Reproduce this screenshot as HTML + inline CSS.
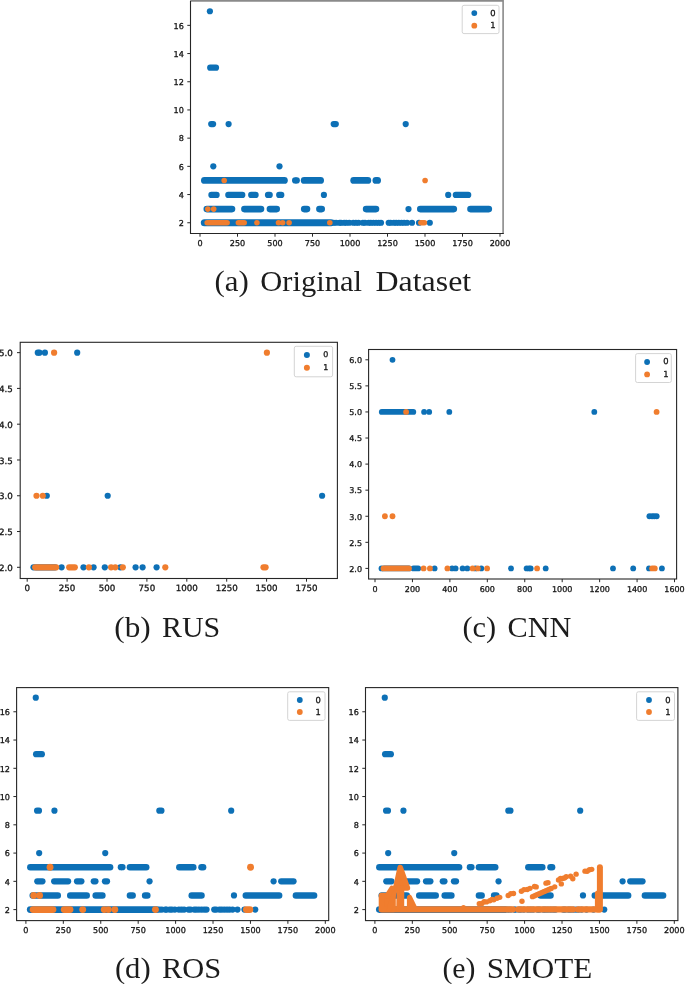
<!DOCTYPE html>
<html lang="en">
<head>
<meta charset="utf-8">
<title>Resampling scatter plots</title>
<style>
html,body{margin:0;padding:0;background:#fff;}
body{width:685px;height:984px;overflow:hidden;}
svg{display:block;}
.tk{font-family:"DejaVu Sans","Liberation Sans",sans-serif;font-size:8.1px;fill:#151515;stroke:#151515;stroke-width:0.3px;text-rendering:geometricPrecision;}
.tk.lg{font-size:8.4px;}
#pb .tk{font-size:8.7px;}
#pb .tk.lg{font-size:7.9px;stroke-width:0.32px;}
#pc .tk{font-size:8px;}
#pc .tk.lg{font-size:8.4px;}
.cap{font-family:"Liberation Serif","DejaVu Serif",serif;font-size:29px;fill:#1c1c1c;}
</style>
</head>
<body>
<svg width="685" height="984" viewBox="0 0 685 984">
<rect width="685" height="984" fill="#fff"/>
<g id="pa">
<circle cx="209.9" cy="11.25" r="3.1" fill="#0d70b6"/>
<line x1="210.2" y1="67.65" x2="216" y2="67.65" stroke="#0d70b6" stroke-width="6.2" stroke-linecap="round"/>
<line x1="211.2" y1="124.05" x2="213.1" y2="124.05" stroke="#0d70b6" stroke-width="6.2" stroke-linecap="round"/>
<circle cx="228.6" cy="124.05" r="3.1" fill="#0d70b6"/>
<line x1="333.7" y1="124.05" x2="335.8" y2="124.05" stroke="#0d70b6" stroke-width="6.2" stroke-linecap="round"/>
<circle cx="405.7" cy="124.05" r="3.1" fill="#0d70b6"/>
<circle cx="213.3" cy="166.35" r="3.1" fill="#0d70b6"/>
<circle cx="279.5" cy="166.35" r="3.1" fill="#0d70b6"/>
<line x1="204.4" y1="180.45" x2="284.4" y2="180.45" stroke="#0d70b6" stroke-width="6.8" stroke-linecap="round"/>
<circle cx="295.1" cy="180.45" r="3.1" fill="#0d70b6"/>
<circle cx="296.8" cy="180.45" r="3.1" fill="#0d70b6"/>
<line x1="304.2" y1="180.45" x2="320.6" y2="180.45" stroke="#0d70b6" stroke-width="6.8" stroke-linecap="round"/>
<line x1="353.7" y1="180.45" x2="367.8" y2="180.45" stroke="#0d70b6" stroke-width="6.8" stroke-linecap="round"/>
<line x1="375.9" y1="180.45" x2="377.6" y2="180.45" stroke="#0d70b6" stroke-width="6.8" stroke-linecap="round"/>
<line x1="211.4" y1="194.95" x2="216.6" y2="194.95" stroke="#0d70b6" stroke-width="6.2" stroke-linecap="round"/>
<line x1="228.3" y1="194.95" x2="242.3" y2="194.95" stroke="#0d70b6" stroke-width="6.2" stroke-linecap="round"/>
<line x1="251.2" y1="194.95" x2="255.6" y2="194.95" stroke="#0d70b6" stroke-width="6.2" stroke-linecap="round"/>
<line x1="268" y1="194.95" x2="269.7" y2="194.95" stroke="#0d70b6" stroke-width="6.2" stroke-linecap="round"/>
<line x1="279.2" y1="194.95" x2="281.3" y2="194.95" stroke="#0d70b6" stroke-width="6.2" stroke-linecap="round"/>
<circle cx="323.9" cy="194.95" r="3.1" fill="#0d70b6"/>
<circle cx="448.2" cy="194.95" r="3.1" fill="#0d70b6"/>
<line x1="455.8" y1="194.95" x2="468.2" y2="194.95" stroke="#0d70b6" stroke-width="6.2" stroke-linecap="round"/>
<line x1="206.8" y1="209.1" x2="232" y2="209.1" stroke="#0d70b6" stroke-width="6.6" stroke-linecap="round"/>
<line x1="244.4" y1="209.1" x2="261" y2="209.1" stroke="#0d70b6" stroke-width="6.6" stroke-linecap="round"/>
<line x1="269.9" y1="209.1" x2="276.7" y2="209.1" stroke="#0d70b6" stroke-width="6.6" stroke-linecap="round"/>
<line x1="304.2" y1="209.1" x2="307" y2="209.1" stroke="#0d70b6" stroke-width="6.6" stroke-linecap="round"/>
<line x1="319.4" y1="209.1" x2="321.7" y2="209.1" stroke="#0d70b6" stroke-width="6.6" stroke-linecap="round"/>
<line x1="366.1" y1="209.1" x2="376" y2="209.1" stroke="#0d70b6" stroke-width="6.6" stroke-linecap="round"/>
<circle cx="408.5" cy="209.1" r="3.1" fill="#0d70b6"/>
<line x1="420.3" y1="209.1" x2="453.8" y2="209.1" stroke="#0d70b6" stroke-width="6.6" stroke-linecap="round"/>
<line x1="470.5" y1="209.1" x2="488.8" y2="209.1" stroke="#0d70b6" stroke-width="6.6" stroke-linecap="round"/>
<line x1="204.4" y1="222.75" x2="331" y2="222.75" stroke="#0d70b6" stroke-width="7.2" stroke-linecap="round"/>
<circle cx="333.7" cy="222.75" r="3.1" fill="#0d70b6"/>
<circle cx="336.1" cy="222.75" r="3.1" fill="#0d70b6"/>
<circle cx="339.6" cy="222.75" r="3.1" fill="#0d70b6"/>
<circle cx="341" cy="222.75" r="3.1" fill="#0d70b6"/>
<circle cx="344.2" cy="222.75" r="3.1" fill="#0d70b6"/>
<circle cx="346.3" cy="222.75" r="3.1" fill="#0d70b6"/>
<circle cx="349.3" cy="222.75" r="3.1" fill="#0d70b6"/>
<circle cx="353.3" cy="222.75" r="3.1" fill="#0d70b6"/>
<circle cx="355.9" cy="222.75" r="3.1" fill="#0d70b6"/>
<circle cx="358.5" cy="222.75" r="3.1" fill="#0d70b6"/>
<circle cx="362.9" cy="222.75" r="3.1" fill="#0d70b6"/>
<circle cx="365" cy="222.75" r="3.1" fill="#0d70b6"/>
<circle cx="368.7" cy="222.75" r="3.1" fill="#0d70b6"/>
<circle cx="370.8" cy="222.75" r="3.1" fill="#0d70b6"/>
<circle cx="373.4" cy="222.75" r="3.1" fill="#0d70b6"/>
<circle cx="376.1" cy="222.75" r="3.1" fill="#0d70b6"/>
<circle cx="378.7" cy="222.75" r="3.1" fill="#0d70b6"/>
<circle cx="381" cy="222.75" r="3.1" fill="#0d70b6"/>
<circle cx="388.7" cy="222.75" r="3.1" fill="#0d70b6"/>
<circle cx="390.6" cy="222.75" r="3.1" fill="#0d70b6"/>
<circle cx="393.9" cy="222.75" r="3.1" fill="#0d70b6"/>
<circle cx="396.2" cy="222.75" r="3.1" fill="#0d70b6"/>
<circle cx="398.8" cy="222.75" r="3.1" fill="#0d70b6"/>
<circle cx="401.5" cy="222.75" r="3.1" fill="#0d70b6"/>
<circle cx="404.1" cy="222.75" r="3.1" fill="#0d70b6"/>
<circle cx="407.1" cy="222.75" r="3.1" fill="#0d70b6"/>
<circle cx="412" cy="222.75" r="3.1" fill="#0d70b6"/>
<circle cx="419" cy="222.75" r="3.1" fill="#0d70b6"/>
<circle cx="429.8" cy="222.75" r="3.1" fill="#0d70b6"/>
<circle cx="224.2" cy="180.45" r="2.8" fill="#f07d2e"/>
<circle cx="425.1" cy="180.45" r="2.8" fill="#f07d2e"/>
<circle cx="207.8" cy="209.1" r="2.8" fill="#f07d2e"/>
<circle cx="213.7" cy="209.1" r="2.8" fill="#f07d2e"/>
<line x1="207.2" y1="222.75" x2="227.1" y2="222.75" stroke="#f07d2e" stroke-width="5.6" stroke-linecap="round"/>
<line x1="238.4" y1="222.75" x2="244.2" y2="222.75" stroke="#f07d2e" stroke-width="5.6" stroke-linecap="round"/>
<circle cx="256.9" cy="222.75" r="2.8" fill="#f07d2e"/>
<circle cx="278.5" cy="222.75" r="2.8" fill="#f07d2e"/>
<circle cx="282.6" cy="222.75" r="2.8" fill="#f07d2e"/>
<circle cx="289.1" cy="222.75" r="2.8" fill="#f07d2e"/>
<circle cx="329.8" cy="222.75" r="2.8" fill="#f07d2e"/>
<line x1="420.9" y1="222.75" x2="424.4" y2="222.75" stroke="#f07d2e" stroke-width="5.6" stroke-linecap="round"/>
<polyline points="190.5,0.9 503.1,0.9 503.1,233.5" fill="none" stroke="#8a8a8a" stroke-width="1.6"/>
<polyline points="190.5,0.7 190.5,233.5 503.8,233.5" fill="none" stroke="#262626" stroke-width="1.1"/>
<line x1="200" y1="233.5" x2="200" y2="236.7" stroke="#262626" stroke-width="1"/>
<text class="tk" x="200" y="246.3" text-anchor="middle">0</text>
<line x1="237.5" y1="233.5" x2="237.5" y2="236.7" stroke="#262626" stroke-width="1"/>
<text class="tk" x="237.5" y="246.3" text-anchor="middle">250</text>
<line x1="275" y1="233.5" x2="275" y2="236.7" stroke="#262626" stroke-width="1"/>
<text class="tk" x="275" y="246.3" text-anchor="middle">500</text>
<line x1="312.5" y1="233.5" x2="312.5" y2="236.7" stroke="#262626" stroke-width="1"/>
<text class="tk" x="312.5" y="246.3" text-anchor="middle">750</text>
<line x1="350" y1="233.5" x2="350" y2="236.7" stroke="#262626" stroke-width="1"/>
<text class="tk" x="350" y="246.3" text-anchor="middle">1000</text>
<line x1="387.5" y1="233.5" x2="387.5" y2="236.7" stroke="#262626" stroke-width="1"/>
<text class="tk" x="387.5" y="246.3" text-anchor="middle">1250</text>
<line x1="425" y1="233.5" x2="425" y2="236.7" stroke="#262626" stroke-width="1"/>
<text class="tk" x="425" y="246.3" text-anchor="middle">1500</text>
<line x1="462.5" y1="233.5" x2="462.5" y2="236.7" stroke="#262626" stroke-width="1"/>
<text class="tk" x="462.5" y="246.3" text-anchor="middle">1750</text>
<line x1="500" y1="233.5" x2="500" y2="236.7" stroke="#262626" stroke-width="1"/>
<text class="tk" x="500" y="246.3" text-anchor="middle">2000</text>
<line x1="187.3" y1="222.75" x2="190.5" y2="222.75" stroke="#262626" stroke-width="1"/>
<text class="tk" x="183.9" y="226.05" text-anchor="end">2</text>
<line x1="187.3" y1="194.55" x2="190.5" y2="194.55" stroke="#262626" stroke-width="1"/>
<text class="tk" x="183.9" y="197.85" text-anchor="end">4</text>
<line x1="187.3" y1="166.35" x2="190.5" y2="166.35" stroke="#262626" stroke-width="1"/>
<text class="tk" x="183.9" y="169.65" text-anchor="end">6</text>
<line x1="187.3" y1="138.15" x2="190.5" y2="138.15" stroke="#262626" stroke-width="1"/>
<text class="tk" x="183.9" y="141.45" text-anchor="end">8</text>
<line x1="187.3" y1="109.95" x2="190.5" y2="109.95" stroke="#262626" stroke-width="1"/>
<text class="tk" x="183.9" y="113.25" text-anchor="end">10</text>
<line x1="187.3" y1="81.75" x2="190.5" y2="81.75" stroke="#262626" stroke-width="1"/>
<text class="tk" x="183.9" y="85.05" text-anchor="end">12</text>
<line x1="187.3" y1="53.55" x2="190.5" y2="53.55" stroke="#262626" stroke-width="1"/>
<text class="tk" x="183.9" y="56.85" text-anchor="end">14</text>
<line x1="187.3" y1="25.35" x2="190.5" y2="25.35" stroke="#262626" stroke-width="1"/>
<text class="tk" x="183.9" y="28.65" text-anchor="end">16</text>
<rect x="462.2" y="5.3" width="36.8" height="28.3" rx="1.8" fill="#fff" fill-opacity="0.8" stroke="#cfcfcf" stroke-width="0.9"/>
<circle cx="474.3" cy="13.1" r="2.9" fill="#0d70b6"/>
<circle cx="474.3" cy="25.7" r="2.9" fill="#f07d2e"/>
<text class="tk lg" x="493" y="15.8" text-anchor="middle">0</text>
<text class="tk lg" x="493" y="28.4" text-anchor="middle">1</text>
</g>
<g id="pd">
<circle cx="35.78" cy="697.65" r="3.1" fill="#0d70b6"/>
<line x1="36.08" y1="754.17" x2="41.87" y2="754.17" stroke="#0d70b6" stroke-width="6.2" stroke-linecap="round"/>
<line x1="37.08" y1="810.69" x2="38.97" y2="810.69" stroke="#0d70b6" stroke-width="6.2" stroke-linecap="round"/>
<circle cx="54.44" cy="810.69" r="3.1" fill="#0d70b6"/>
<line x1="159.33" y1="810.69" x2="161.43" y2="810.69" stroke="#0d70b6" stroke-width="6.2" stroke-linecap="round"/>
<circle cx="231.19" cy="810.69" r="3.1" fill="#0d70b6"/>
<circle cx="39.17" cy="853.08" r="3.1" fill="#0d70b6"/>
<circle cx="105.24" cy="853.08" r="3.1" fill="#0d70b6"/>
<line x1="30.29" y1="867.21" x2="110.13" y2="867.21" stroke="#0d70b6" stroke-width="6.4" stroke-linecap="round"/>
<circle cx="120.81" cy="867.21" r="3.1" fill="#0d70b6"/>
<circle cx="122.51" cy="867.21" r="3.1" fill="#0d70b6"/>
<line x1="129.89" y1="867.21" x2="146.26" y2="867.21" stroke="#0d70b6" stroke-width="6.4" stroke-linecap="round"/>
<line x1="179.29" y1="867.21" x2="193.36" y2="867.21" stroke="#0d70b6" stroke-width="6.4" stroke-linecap="round"/>
<line x1="201.45" y1="867.21" x2="203.14" y2="867.21" stroke="#0d70b6" stroke-width="6.4" stroke-linecap="round"/>
<line x1="37.28" y1="881.34" x2="42.47" y2="881.34" stroke="#0d70b6" stroke-width="6.2" stroke-linecap="round"/>
<line x1="54.14" y1="881.34" x2="68.12" y2="881.34" stroke="#0d70b6" stroke-width="6.2" stroke-linecap="round"/>
<line x1="77" y1="881.34" x2="81.39" y2="881.34" stroke="#0d70b6" stroke-width="6.2" stroke-linecap="round"/>
<line x1="93.76" y1="881.34" x2="95.46" y2="881.34" stroke="#0d70b6" stroke-width="6.2" stroke-linecap="round"/>
<line x1="104.94" y1="881.34" x2="107.04" y2="881.34" stroke="#0d70b6" stroke-width="6.2" stroke-linecap="round"/>
<circle cx="149.55" cy="881.34" r="3.1" fill="#0d70b6"/>
<circle cx="273.6" cy="881.34" r="3.1" fill="#0d70b6"/>
<line x1="281.19" y1="881.34" x2="293.56" y2="881.34" stroke="#0d70b6" stroke-width="6.2" stroke-linecap="round"/>
<line x1="32.69" y1="895.47" x2="57.84" y2="895.47" stroke="#0d70b6" stroke-width="6.4" stroke-linecap="round"/>
<line x1="70.21" y1="895.47" x2="86.78" y2="895.47" stroke="#0d70b6" stroke-width="6.4" stroke-linecap="round"/>
<line x1="95.66" y1="895.47" x2="102.45" y2="895.47" stroke="#0d70b6" stroke-width="6.4" stroke-linecap="round"/>
<line x1="129.89" y1="895.47" x2="132.69" y2="895.47" stroke="#0d70b6" stroke-width="6.4" stroke-linecap="round"/>
<line x1="145.06" y1="895.47" x2="147.36" y2="895.47" stroke="#0d70b6" stroke-width="6.4" stroke-linecap="round"/>
<line x1="191.67" y1="895.47" x2="201.55" y2="895.47" stroke="#0d70b6" stroke-width="6.4" stroke-linecap="round"/>
<circle cx="233.98" cy="895.47" r="3.1" fill="#0d70b6"/>
<line x1="245.76" y1="895.47" x2="279.19" y2="895.47" stroke="#0d70b6" stroke-width="6.4" stroke-linecap="round"/>
<line x1="295.86" y1="895.47" x2="314.12" y2="895.47" stroke="#0d70b6" stroke-width="6.4" stroke-linecap="round"/>
<line x1="30.29" y1="909.6" x2="156.64" y2="909.6" stroke="#0d70b6" stroke-width="6.9" stroke-linecap="round"/>
<circle cx="159.33" cy="909.6" r="3.1" fill="#0d70b6"/>
<circle cx="161.73" cy="909.6" r="3.1" fill="#0d70b6"/>
<circle cx="165.22" cy="909.6" r="3.1" fill="#0d70b6"/>
<circle cx="166.62" cy="909.6" r="3.1" fill="#0d70b6"/>
<circle cx="169.81" cy="909.6" r="3.1" fill="#0d70b6"/>
<circle cx="171.91" cy="909.6" r="3.1" fill="#0d70b6"/>
<circle cx="174.9" cy="909.6" r="3.1" fill="#0d70b6"/>
<circle cx="178.89" cy="909.6" r="3.1" fill="#0d70b6"/>
<circle cx="181.49" cy="909.6" r="3.1" fill="#0d70b6"/>
<circle cx="184.08" cy="909.6" r="3.1" fill="#0d70b6"/>
<circle cx="188.47" cy="909.6" r="3.1" fill="#0d70b6"/>
<circle cx="190.57" cy="909.6" r="3.1" fill="#0d70b6"/>
<circle cx="194.26" cy="909.6" r="3.1" fill="#0d70b6"/>
<circle cx="196.36" cy="909.6" r="3.1" fill="#0d70b6"/>
<circle cx="198.95" cy="909.6" r="3.1" fill="#0d70b6"/>
<circle cx="201.65" cy="909.6" r="3.1" fill="#0d70b6"/>
<circle cx="204.24" cy="909.6" r="3.1" fill="#0d70b6"/>
<circle cx="206.54" cy="909.6" r="3.1" fill="#0d70b6"/>
<circle cx="214.22" cy="909.6" r="3.1" fill="#0d70b6"/>
<circle cx="216.12" cy="909.6" r="3.1" fill="#0d70b6"/>
<circle cx="219.41" cy="909.6" r="3.1" fill="#0d70b6"/>
<circle cx="221.71" cy="909.6" r="3.1" fill="#0d70b6"/>
<circle cx="224.3" cy="909.6" r="3.1" fill="#0d70b6"/>
<circle cx="227" cy="909.6" r="3.1" fill="#0d70b6"/>
<circle cx="229.59" cy="909.6" r="3.1" fill="#0d70b6"/>
<circle cx="232.59" cy="909.6" r="3.1" fill="#0d70b6"/>
<circle cx="237.48" cy="909.6" r="3.1" fill="#0d70b6"/>
<circle cx="244.46" cy="909.6" r="3.1" fill="#0d70b6"/>
<circle cx="255.24" cy="909.6" r="3.1" fill="#0d70b6"/>
<circle cx="50.05" cy="867.21" r="3.45" fill="#f07d2e"/>
<circle cx="250.55" cy="867.21" r="3.45" fill="#f07d2e"/>
<circle cx="33.68" cy="895.47" r="3.45" fill="#f07d2e"/>
<circle cx="39.57" cy="895.47" r="3.45" fill="#f07d2e"/>
<line x1="33.09" y1="909.6" x2="52.95" y2="909.6" stroke="#f07d2e" stroke-width="6.9" stroke-linecap="round"/>
<line x1="64.22" y1="909.6" x2="70.01" y2="909.6" stroke="#f07d2e" stroke-width="6.9" stroke-linecap="round"/>
<circle cx="82.69" cy="909.6" r="3.45" fill="#f07d2e"/>
<circle cx="104.24" cy="909.6" r="3.45" fill="#f07d2e"/>
<circle cx="108.33" cy="909.6" r="3.45" fill="#f07d2e"/>
<circle cx="114.82" cy="909.6" r="3.45" fill="#f07d2e"/>
<circle cx="155.44" cy="909.6" r="3.45" fill="#f07d2e"/>
<line x1="246.36" y1="909.6" x2="249.85" y2="909.6" stroke="#f07d2e" stroke-width="6.9" stroke-linecap="round"/>
<rect x="16.6" y="687.6" width="312.1" height="233" fill="none" stroke="#262626" stroke-width="1.1"/>
<line x1="25.9" y1="920.6" x2="25.9" y2="923.8" stroke="#262626" stroke-width="1"/>
<text class="tk" x="25.9" y="933.4" text-anchor="middle">0</text>
<line x1="63.32" y1="920.6" x2="63.32" y2="923.8" stroke="#262626" stroke-width="1"/>
<text class="tk" x="63.32" y="933.4" text-anchor="middle">250</text>
<line x1="100.75" y1="920.6" x2="100.75" y2="923.8" stroke="#262626" stroke-width="1"/>
<text class="tk" x="100.75" y="933.4" text-anchor="middle">500</text>
<line x1="138.18" y1="920.6" x2="138.18" y2="923.8" stroke="#262626" stroke-width="1"/>
<text class="tk" x="138.18" y="933.4" text-anchor="middle">750</text>
<line x1="175.6" y1="920.6" x2="175.6" y2="923.8" stroke="#262626" stroke-width="1"/>
<text class="tk" x="175.6" y="933.4" text-anchor="middle">1000</text>
<line x1="213.03" y1="920.6" x2="213.03" y2="923.8" stroke="#262626" stroke-width="1"/>
<text class="tk" x="213.03" y="933.4" text-anchor="middle">1250</text>
<line x1="250.45" y1="920.6" x2="250.45" y2="923.8" stroke="#262626" stroke-width="1"/>
<text class="tk" x="250.45" y="933.4" text-anchor="middle">1500</text>
<line x1="287.88" y1="920.6" x2="287.88" y2="923.8" stroke="#262626" stroke-width="1"/>
<text class="tk" x="287.88" y="933.4" text-anchor="middle">1750</text>
<line x1="325.3" y1="920.6" x2="325.3" y2="923.8" stroke="#262626" stroke-width="1"/>
<text class="tk" x="325.3" y="933.4" text-anchor="middle">2000</text>
<line x1="13.4" y1="909.6" x2="16.6" y2="909.6" stroke="#262626" stroke-width="1"/>
<text class="tk" x="10" y="912.9" text-anchor="end">2</text>
<line x1="13.4" y1="881.34" x2="16.6" y2="881.34" stroke="#262626" stroke-width="1"/>
<text class="tk" x="10" y="884.64" text-anchor="end">4</text>
<line x1="13.4" y1="853.08" x2="16.6" y2="853.08" stroke="#262626" stroke-width="1"/>
<text class="tk" x="10" y="856.38" text-anchor="end">6</text>
<line x1="13.4" y1="824.82" x2="16.6" y2="824.82" stroke="#262626" stroke-width="1"/>
<text class="tk" x="10" y="828.12" text-anchor="end">8</text>
<line x1="13.4" y1="796.56" x2="16.6" y2="796.56" stroke="#262626" stroke-width="1"/>
<text class="tk" x="10" y="799.86" text-anchor="end">10</text>
<line x1="13.4" y1="768.3" x2="16.6" y2="768.3" stroke="#262626" stroke-width="1"/>
<text class="tk" x="10" y="771.6" text-anchor="end">12</text>
<line x1="13.4" y1="740.04" x2="16.6" y2="740.04" stroke="#262626" stroke-width="1"/>
<text class="tk" x="10" y="743.34" text-anchor="end">14</text>
<line x1="13.4" y1="711.78" x2="16.6" y2="711.78" stroke="#262626" stroke-width="1"/>
<text class="tk" x="10" y="715.08" text-anchor="end">16</text>
<rect x="287.7" y="691.8" width="37.3" height="28.6" rx="1.8" fill="#fff" fill-opacity="0.8" stroke="#cfcfcf" stroke-width="0.9"/>
<circle cx="299.8" cy="700" r="2.9" fill="#0d70b6"/>
<circle cx="299.8" cy="712" r="2.9" fill="#f07d2e"/>
<text class="tk lg" x="318.2" y="702.6" text-anchor="middle">0</text>
<text class="tk lg" x="318.2" y="714.6" text-anchor="middle">1</text>
</g>
<g id="pe">
<circle cx="384.78" cy="697.65" r="3.1" fill="#0d70b6"/>
<line x1="385.08" y1="754.17" x2="390.87" y2="754.17" stroke="#0d70b6" stroke-width="6.2" stroke-linecap="round"/>
<line x1="386.08" y1="810.69" x2="387.97" y2="810.69" stroke="#0d70b6" stroke-width="6.2" stroke-linecap="round"/>
<circle cx="403.44" cy="810.69" r="3.1" fill="#0d70b6"/>
<line x1="508.33" y1="810.69" x2="510.43" y2="810.69" stroke="#0d70b6" stroke-width="6.2" stroke-linecap="round"/>
<circle cx="580.19" cy="810.69" r="3.1" fill="#0d70b6"/>
<circle cx="388.17" cy="853.08" r="3.1" fill="#0d70b6"/>
<circle cx="454.24" cy="853.08" r="3.1" fill="#0d70b6"/>
<line x1="379.29" y1="867.21" x2="459.13" y2="867.21" stroke="#0d70b6" stroke-width="6.4" stroke-linecap="round"/>
<circle cx="469.81" cy="867.21" r="3.1" fill="#0d70b6"/>
<circle cx="471.51" cy="867.21" r="3.1" fill="#0d70b6"/>
<line x1="478.89" y1="867.21" x2="495.26" y2="867.21" stroke="#0d70b6" stroke-width="6.4" stroke-linecap="round"/>
<line x1="528.29" y1="867.21" x2="542.36" y2="867.21" stroke="#0d70b6" stroke-width="6.4" stroke-linecap="round"/>
<line x1="550.45" y1="867.21" x2="552.14" y2="867.21" stroke="#0d70b6" stroke-width="6.4" stroke-linecap="round"/>
<line x1="386.28" y1="881.34" x2="391.47" y2="881.34" stroke="#0d70b6" stroke-width="6.2" stroke-linecap="round"/>
<line x1="403.14" y1="881.34" x2="417.12" y2="881.34" stroke="#0d70b6" stroke-width="6.2" stroke-linecap="round"/>
<line x1="426" y1="881.34" x2="430.39" y2="881.34" stroke="#0d70b6" stroke-width="6.2" stroke-linecap="round"/>
<line x1="442.76" y1="881.34" x2="444.46" y2="881.34" stroke="#0d70b6" stroke-width="6.2" stroke-linecap="round"/>
<line x1="453.94" y1="881.34" x2="456.04" y2="881.34" stroke="#0d70b6" stroke-width="6.2" stroke-linecap="round"/>
<circle cx="498.55" cy="881.34" r="3.1" fill="#0d70b6"/>
<circle cx="622.6" cy="881.34" r="3.1" fill="#0d70b6"/>
<line x1="630.19" y1="881.34" x2="642.56" y2="881.34" stroke="#0d70b6" stroke-width="6.2" stroke-linecap="round"/>
<line x1="381.69" y1="895.47" x2="406.84" y2="895.47" stroke="#0d70b6" stroke-width="6.4" stroke-linecap="round"/>
<line x1="419.21" y1="895.47" x2="435.78" y2="895.47" stroke="#0d70b6" stroke-width="6.4" stroke-linecap="round"/>
<line x1="444.66" y1="895.47" x2="451.45" y2="895.47" stroke="#0d70b6" stroke-width="6.4" stroke-linecap="round"/>
<line x1="478.89" y1="895.47" x2="481.69" y2="895.47" stroke="#0d70b6" stroke-width="6.4" stroke-linecap="round"/>
<line x1="494.06" y1="895.47" x2="496.36" y2="895.47" stroke="#0d70b6" stroke-width="6.4" stroke-linecap="round"/>
<line x1="540.67" y1="895.47" x2="550.55" y2="895.47" stroke="#0d70b6" stroke-width="6.4" stroke-linecap="round"/>
<circle cx="582.98" cy="895.47" r="3.1" fill="#0d70b6"/>
<line x1="594.76" y1="895.47" x2="628.19" y2="895.47" stroke="#0d70b6" stroke-width="6.4" stroke-linecap="round"/>
<line x1="644.86" y1="895.47" x2="663.12" y2="895.47" stroke="#0d70b6" stroke-width="6.4" stroke-linecap="round"/>
<line x1="379.29" y1="909.6" x2="505.64" y2="909.6" stroke="#0d70b6" stroke-width="6.6" stroke-linecap="round"/>
<circle cx="508.33" cy="909.6" r="3.1" fill="#0d70b6"/>
<circle cx="510.73" cy="909.6" r="3.1" fill="#0d70b6"/>
<circle cx="514.22" cy="909.6" r="3.1" fill="#0d70b6"/>
<circle cx="515.62" cy="909.6" r="3.1" fill="#0d70b6"/>
<circle cx="518.81" cy="909.6" r="3.1" fill="#0d70b6"/>
<circle cx="520.91" cy="909.6" r="3.1" fill="#0d70b6"/>
<circle cx="523.9" cy="909.6" r="3.1" fill="#0d70b6"/>
<circle cx="527.89" cy="909.6" r="3.1" fill="#0d70b6"/>
<circle cx="530.49" cy="909.6" r="3.1" fill="#0d70b6"/>
<circle cx="533.08" cy="909.6" r="3.1" fill="#0d70b6"/>
<circle cx="537.47" cy="909.6" r="3.1" fill="#0d70b6"/>
<circle cx="539.57" cy="909.6" r="3.1" fill="#0d70b6"/>
<circle cx="543.26" cy="909.6" r="3.1" fill="#0d70b6"/>
<circle cx="545.36" cy="909.6" r="3.1" fill="#0d70b6"/>
<circle cx="547.95" cy="909.6" r="3.1" fill="#0d70b6"/>
<circle cx="550.65" cy="909.6" r="3.1" fill="#0d70b6"/>
<circle cx="553.24" cy="909.6" r="3.1" fill="#0d70b6"/>
<circle cx="555.54" cy="909.6" r="3.1" fill="#0d70b6"/>
<circle cx="563.22" cy="909.6" r="3.1" fill="#0d70b6"/>
<circle cx="565.12" cy="909.6" r="3.1" fill="#0d70b6"/>
<circle cx="568.41" cy="909.6" r="3.1" fill="#0d70b6"/>
<circle cx="570.71" cy="909.6" r="3.1" fill="#0d70b6"/>
<circle cx="573.3" cy="909.6" r="3.1" fill="#0d70b6"/>
<circle cx="576" cy="909.6" r="3.1" fill="#0d70b6"/>
<circle cx="578.59" cy="909.6" r="3.1" fill="#0d70b6"/>
<circle cx="581.59" cy="909.6" r="3.1" fill="#0d70b6"/>
<circle cx="586.48" cy="909.6" r="3.1" fill="#0d70b6"/>
<circle cx="593.46" cy="909.6" r="3.1" fill="#0d70b6"/>
<circle cx="604.24" cy="909.6" r="3.1" fill="#0d70b6"/>
<line x1="381.8" y1="909.4" x2="513" y2="909.4" stroke="#f07d2e" stroke-width="6.1" stroke-linecap="round"/>
<line x1="518.2" y1="909.4" x2="573.2" y2="909.4" stroke="#f07d2e" stroke-width="6.1" stroke-linecap="round"/>
<line x1="577.9" y1="909.4" x2="599.6" y2="909.4" stroke="#f07d2e" stroke-width="6.1" stroke-linecap="round"/>
<rect x="381.5" y="895.47" width="11.5" height="13.93" fill="#f07d2e" stroke="#f07d2e" stroke-width="5.6" stroke-linejoin="round"/>
<polygon points="400.2,867.51 395.7,888 407.4,888" fill="#f07d2e" stroke="#f07d2e" stroke-width="5.6" stroke-linejoin="round"/>
<line x1="395.3" y1="888" x2="389.4" y2="909.4" stroke="#f07d2e" stroke-width="5.2" stroke-linecap="round"/>
<line x1="399.2" y1="888" x2="398.9" y2="909.4" stroke="#f07d2e" stroke-width="5.2" stroke-linecap="round"/>
<line x1="401.7" y1="888" x2="401.6" y2="909.4" stroke="#f07d2e" stroke-width="5.2" stroke-linecap="round"/>
<polygon points="409.5,897.3 409.5,909.4 415.3,909.4" fill="#f07d2e" stroke="#f07d2e" stroke-width="5.2" stroke-linejoin="round"/>
<line x1="387.5" y1="895.47" x2="392" y2="888.5" stroke="#f07d2e" stroke-width="5.6" stroke-linecap="round"/>
<line x1="599.9" y1="867.21" x2="599.9" y2="909.4" stroke="#f07d2e" stroke-width="6" stroke-linecap="round"/>
<line x1="597.9" y1="893.5" x2="597.9" y2="909.4" stroke="#f07d2e" stroke-width="6" stroke-linecap="round"/>
<circle cx="479.3" cy="903.82" r="2.7" fill="#f07d2e"/>
<circle cx="481.9" cy="903.39" r="2.7" fill="#f07d2e"/>
<circle cx="484.2" cy="901.82" r="2.7" fill="#f07d2e"/>
<circle cx="486.5" cy="901.9" r="2.7" fill="#f07d2e"/>
<circle cx="489.8" cy="900.72" r="2.7" fill="#f07d2e"/>
<circle cx="492" cy="899.49" r="2.7" fill="#f07d2e"/>
<circle cx="493.8" cy="899.85" r="2.7" fill="#f07d2e"/>
<circle cx="497" cy="898.21" r="2.7" fill="#f07d2e"/>
<circle cx="499.7" cy="897.36" r="2.7" fill="#f07d2e"/>
<circle cx="508.2" cy="895.45" r="2.7" fill="#f07d2e"/>
<circle cx="510.8" cy="893.75" r="2.7" fill="#f07d2e"/>
<circle cx="513.5" cy="893.43" r="2.7" fill="#f07d2e"/>
<circle cx="521.4" cy="891.25" r="2.7" fill="#f07d2e"/>
<circle cx="524" cy="889.64" r="2.7" fill="#f07d2e"/>
<circle cx="527.3" cy="889.48" r="2.7" fill="#f07d2e"/>
<circle cx="530" cy="888.33" r="2.7" fill="#f07d2e"/>
<circle cx="534.5" cy="886.53" r="2.7" fill="#f07d2e"/>
<circle cx="536.2" cy="886.9" r="2.7" fill="#f07d2e"/>
<circle cx="546" cy="883.14" r="2.7" fill="#f07d2e"/>
<circle cx="548" cy="882.66" r="2.7" fill="#f07d2e"/>
<circle cx="558.5" cy="880.03" r="2.7" fill="#f07d2e"/>
<circle cx="560.5" cy="878.51" r="2.7" fill="#f07d2e"/>
<circle cx="562.5" cy="878.52" r="2.7" fill="#f07d2e"/>
<circle cx="564.5" cy="877.99" r="2.7" fill="#f07d2e"/>
<circle cx="566.2" cy="876.74" r="2.7" fill="#f07d2e"/>
<circle cx="570.6" cy="876.29" r="2.7" fill="#f07d2e"/>
<circle cx="576.1" cy="874.14" r="2.7" fill="#f07d2e"/>
<circle cx="585" cy="871.14" r="2.7" fill="#f07d2e"/>
<circle cx="587.2" cy="871.3" r="2.7" fill="#f07d2e"/>
<circle cx="589.5" cy="869.76" r="2.7" fill="#f07d2e"/>
<circle cx="591.7" cy="869.36" r="2.7" fill="#f07d2e"/>
<circle cx="463.5" cy="907.2" r="2.3" fill="#f07d2e"/>
<circle cx="522" cy="901.32" r="2.7" fill="#f07d2e"/>
<circle cx="532.5" cy="896.66" r="2.7" fill="#f07d2e"/>
<circle cx="534.2" cy="895.91" r="2.7" fill="#f07d2e"/>
<circle cx="535.9" cy="895.16" r="2.7" fill="#f07d2e"/>
<circle cx="537.6" cy="894.41" r="2.7" fill="#f07d2e"/>
<circle cx="539.3" cy="893.65" r="2.7" fill="#f07d2e"/>
<circle cx="541" cy="892.9" r="2.7" fill="#f07d2e"/>
<circle cx="542.7" cy="892.15" r="2.7" fill="#f07d2e"/>
<circle cx="544.4" cy="891.39" r="2.7" fill="#f07d2e"/>
<circle cx="546.1" cy="890.64" r="2.7" fill="#f07d2e"/>
<circle cx="547.8" cy="889.89" r="2.7" fill="#f07d2e"/>
<circle cx="549.5" cy="889.13" r="2.7" fill="#f07d2e"/>
<circle cx="551.2" cy="888.38" r="2.7" fill="#f07d2e"/>
<circle cx="554.7" cy="886.83" r="2.7" fill="#f07d2e"/>
<circle cx="561.3" cy="883.91" r="2.7" fill="#f07d2e"/>
<circle cx="572.8" cy="878.81" r="2.7" fill="#f07d2e"/>
<rect x="365.5" y="687.6" width="312.4" height="233" fill="none" stroke="#262626" stroke-width="1.1"/>
<line x1="374.9" y1="920.6" x2="374.9" y2="923.8" stroke="#262626" stroke-width="1"/>
<text class="tk" x="374.9" y="933.4" text-anchor="middle">0</text>
<line x1="412.32" y1="920.6" x2="412.32" y2="923.8" stroke="#262626" stroke-width="1"/>
<text class="tk" x="412.32" y="933.4" text-anchor="middle">250</text>
<line x1="449.75" y1="920.6" x2="449.75" y2="923.8" stroke="#262626" stroke-width="1"/>
<text class="tk" x="449.75" y="933.4" text-anchor="middle">500</text>
<line x1="487.17" y1="920.6" x2="487.17" y2="923.8" stroke="#262626" stroke-width="1"/>
<text class="tk" x="487.17" y="933.4" text-anchor="middle">750</text>
<line x1="524.6" y1="920.6" x2="524.6" y2="923.8" stroke="#262626" stroke-width="1"/>
<text class="tk" x="524.6" y="933.4" text-anchor="middle">1000</text>
<line x1="562.02" y1="920.6" x2="562.02" y2="923.8" stroke="#262626" stroke-width="1"/>
<text class="tk" x="562.02" y="933.4" text-anchor="middle">1250</text>
<line x1="599.45" y1="920.6" x2="599.45" y2="923.8" stroke="#262626" stroke-width="1"/>
<text class="tk" x="599.45" y="933.4" text-anchor="middle">1500</text>
<line x1="636.88" y1="920.6" x2="636.88" y2="923.8" stroke="#262626" stroke-width="1"/>
<text class="tk" x="636.88" y="933.4" text-anchor="middle">1750</text>
<line x1="674.3" y1="920.6" x2="674.3" y2="923.8" stroke="#262626" stroke-width="1"/>
<text class="tk" x="674.3" y="933.4" text-anchor="middle">2000</text>
<line x1="362.3" y1="909.6" x2="365.5" y2="909.6" stroke="#262626" stroke-width="1"/>
<text class="tk" x="358.9" y="912.9" text-anchor="end">2</text>
<line x1="362.3" y1="881.34" x2="365.5" y2="881.34" stroke="#262626" stroke-width="1"/>
<text class="tk" x="358.9" y="884.64" text-anchor="end">4</text>
<line x1="362.3" y1="853.08" x2="365.5" y2="853.08" stroke="#262626" stroke-width="1"/>
<text class="tk" x="358.9" y="856.38" text-anchor="end">6</text>
<line x1="362.3" y1="824.82" x2="365.5" y2="824.82" stroke="#262626" stroke-width="1"/>
<text class="tk" x="358.9" y="828.12" text-anchor="end">8</text>
<line x1="362.3" y1="796.56" x2="365.5" y2="796.56" stroke="#262626" stroke-width="1"/>
<text class="tk" x="358.9" y="799.86" text-anchor="end">10</text>
<line x1="362.3" y1="768.3" x2="365.5" y2="768.3" stroke="#262626" stroke-width="1"/>
<text class="tk" x="358.9" y="771.6" text-anchor="end">12</text>
<line x1="362.3" y1="740.04" x2="365.5" y2="740.04" stroke="#262626" stroke-width="1"/>
<text class="tk" x="358.9" y="743.34" text-anchor="end">14</text>
<line x1="362.3" y1="711.78" x2="365.5" y2="711.78" stroke="#262626" stroke-width="1"/>
<text class="tk" x="358.9" y="715.08" text-anchor="end">16</text>
<rect x="636.6" y="691.8" width="37.9" height="28.6" rx="1.8" fill="#fff" fill-opacity="0.8" stroke="#cfcfcf" stroke-width="0.9"/>
<circle cx="649" cy="700" r="2.9" fill="#0d70b6"/>
<circle cx="649" cy="712" r="2.9" fill="#f07d2e"/>
<text class="tk lg" x="667.9" y="702.6" text-anchor="middle">0</text>
<text class="tk lg" x="667.9" y="714.6" text-anchor="middle">1</text>
</g>
<g id="pb">
<circle cx="37.8" cy="352.65" r="3.1" fill="#0d70b6"/>
<circle cx="39.4" cy="352.65" r="3.1" fill="#0d70b6"/>
<circle cx="44.9" cy="352.65" r="3.1" fill="#0d70b6"/>
<circle cx="77.2" cy="352.65" r="3.1" fill="#0d70b6"/>
<circle cx="46.8" cy="495.75" r="3.1" fill="#0d70b6"/>
<circle cx="107.7" cy="495.75" r="3.1" fill="#0d70b6"/>
<circle cx="322.1" cy="495.75" r="3.1" fill="#0d70b6"/>
<circle cx="33.5" cy="567.3" r="3.1" fill="#0d70b6"/>
<line x1="36" y1="567.3" x2="55" y2="567.3" stroke="#0d70b6" stroke-width="6.2" stroke-linecap="round"/>
<circle cx="61.6" cy="567.3" r="3.1" fill="#0d70b6"/>
<circle cx="83.5" cy="567.3" r="3.1" fill="#0d70b6"/>
<circle cx="93.6" cy="567.3" r="3.1" fill="#0d70b6"/>
<circle cx="104.8" cy="567.3" r="3.1" fill="#0d70b6"/>
<circle cx="120.4" cy="567.3" r="3.1" fill="#0d70b6"/>
<circle cx="135.6" cy="567.3" r="3.1" fill="#0d70b6"/>
<circle cx="142.6" cy="567.3" r="3.1" fill="#0d70b6"/>
<circle cx="156.6" cy="567.3" r="3.1" fill="#0d70b6"/>
<circle cx="54.1" cy="352.65" r="3.1" fill="#f07d2e"/>
<circle cx="266.9" cy="352.65" r="3.1" fill="#f07d2e"/>
<circle cx="36.5" cy="495.75" r="3.1" fill="#f07d2e"/>
<circle cx="42.8" cy="495.75" r="3.1" fill="#f07d2e"/>
<line x1="35.2" y1="567.3" x2="56.2" y2="567.3" stroke="#f07d2e" stroke-width="6.2" stroke-linecap="round"/>
<line x1="69.2" y1="567.3" x2="74.8" y2="567.3" stroke="#f07d2e" stroke-width="6.2" stroke-linecap="round"/>
<circle cx="88.9" cy="567.3" r="3.1" fill="#f07d2e"/>
<circle cx="111.1" cy="567.3" r="3.1" fill="#f07d2e"/>
<circle cx="115.3" cy="567.3" r="3.1" fill="#f07d2e"/>
<circle cx="122.8" cy="567.3" r="3.1" fill="#f07d2e"/>
<circle cx="165.3" cy="567.3" r="3.1" fill="#f07d2e"/>
<circle cx="263.5" cy="567.3" r="3.1" fill="#f07d2e"/>
<circle cx="265.6" cy="567.3" r="3.1" fill="#f07d2e"/>
<rect x="20.2" y="342.3" width="317.2" height="236.2" fill="none" stroke="#262626" stroke-width="1.1"/>
<line x1="27.2" y1="578.5" x2="27.2" y2="581.7" stroke="#262626" stroke-width="1"/>
<text class="tk" x="27.2" y="591.3" text-anchor="middle">0</text>
<line x1="67.1" y1="578.5" x2="67.1" y2="581.7" stroke="#262626" stroke-width="1"/>
<text class="tk" x="67.1" y="591.3" text-anchor="middle">250</text>
<line x1="107" y1="578.5" x2="107" y2="581.7" stroke="#262626" stroke-width="1"/>
<text class="tk" x="107" y="591.3" text-anchor="middle">500</text>
<line x1="146.9" y1="578.5" x2="146.9" y2="581.7" stroke="#262626" stroke-width="1"/>
<text class="tk" x="146.9" y="591.3" text-anchor="middle">750</text>
<line x1="186.8" y1="578.5" x2="186.8" y2="581.7" stroke="#262626" stroke-width="1"/>
<text class="tk" x="186.8" y="591.3" text-anchor="middle">1000</text>
<line x1="226.7" y1="578.5" x2="226.7" y2="581.7" stroke="#262626" stroke-width="1"/>
<text class="tk" x="226.7" y="591.3" text-anchor="middle">1250</text>
<line x1="266.6" y1="578.5" x2="266.6" y2="581.7" stroke="#262626" stroke-width="1"/>
<text class="tk" x="266.6" y="591.3" text-anchor="middle">1500</text>
<line x1="306.5" y1="578.5" x2="306.5" y2="581.7" stroke="#262626" stroke-width="1"/>
<text class="tk" x="306.5" y="591.3" text-anchor="middle">1750</text>
<line x1="17" y1="567.3" x2="20.2" y2="567.3" stroke="#262626" stroke-width="1"/>
<text class="tk" x="12.7" y="571" text-anchor="end">2.0</text>
<line x1="17" y1="531.52" x2="20.2" y2="531.52" stroke="#262626" stroke-width="1"/>
<text class="tk" x="12.7" y="535.23" text-anchor="end">2.5</text>
<line x1="17" y1="495.75" x2="20.2" y2="495.75" stroke="#262626" stroke-width="1"/>
<text class="tk" x="12.7" y="499.45" text-anchor="end">3.0</text>
<line x1="17" y1="459.97" x2="20.2" y2="459.97" stroke="#262626" stroke-width="1"/>
<text class="tk" x="12.7" y="463.67" text-anchor="end">3.5</text>
<line x1="17" y1="424.2" x2="20.2" y2="424.2" stroke="#262626" stroke-width="1"/>
<text class="tk" x="12.7" y="427.9" text-anchor="end">4.0</text>
<line x1="17" y1="388.42" x2="20.2" y2="388.42" stroke="#262626" stroke-width="1"/>
<text class="tk" x="12.7" y="392.12" text-anchor="end">4.5</text>
<line x1="17" y1="352.65" x2="20.2" y2="352.65" stroke="#262626" stroke-width="1"/>
<text class="tk" x="12.7" y="356.35" text-anchor="end">5.0</text>
<rect x="294.3" y="346.3" width="38.3" height="30.5" rx="1.8" fill="#fff" fill-opacity="0.8" stroke="#cfcfcf" stroke-width="0.9"/>
<circle cx="306.9" cy="355" r="3" fill="#0d70b6"/>
<circle cx="306.9" cy="367.8" r="3" fill="#f07d2e"/>
<text class="tk lg" x="325.8" y="357" text-anchor="middle">0</text>
<text class="tk lg" x="325.8" y="369.8" text-anchor="middle">1</text>
</g>
<g id="pc">
<circle cx="392.5" cy="359.8" r="2.9" fill="#0d70b6"/>
<line x1="381.8" y1="411.95" x2="413.3" y2="411.95" stroke="#0d70b6" stroke-width="5.8" stroke-linecap="round"/>
<circle cx="424.1" cy="411.95" r="2.9" fill="#0d70b6"/>
<circle cx="429.2" cy="411.95" r="2.9" fill="#0d70b6"/>
<circle cx="449.3" cy="411.95" r="2.9" fill="#0d70b6"/>
<circle cx="594.3" cy="411.95" r="2.9" fill="#0d70b6"/>
<circle cx="649.4" cy="516.25" r="2.9" fill="#0d70b6"/>
<circle cx="652.1" cy="516.25" r="2.9" fill="#0d70b6"/>
<circle cx="654.3" cy="516.25" r="2.9" fill="#0d70b6"/>
<circle cx="656.7" cy="516.25" r="2.9" fill="#0d70b6"/>
<circle cx="381.5" cy="568.4" r="2.9" fill="#0d70b6"/>
<line x1="384" y1="568.4" x2="409" y2="568.4" stroke="#0d70b6" stroke-width="5.8" stroke-linecap="round"/>
<line x1="413.5" y1="568.4" x2="418.2" y2="568.4" stroke="#0d70b6" stroke-width="5.8" stroke-linecap="round"/>
<circle cx="434.6" cy="568.4" r="2.9" fill="#0d70b6"/>
<circle cx="452.1" cy="568.4" r="2.9" fill="#0d70b6"/>
<circle cx="455.6" cy="568.4" r="2.9" fill="#0d70b6"/>
<circle cx="462.6" cy="568.4" r="2.9" fill="#0d70b6"/>
<circle cx="467.3" cy="568.4" r="2.9" fill="#0d70b6"/>
<circle cx="475.4" cy="568.4" r="2.9" fill="#0d70b6"/>
<circle cx="481.3" cy="568.4" r="2.9" fill="#0d70b6"/>
<circle cx="511" cy="568.4" r="2.9" fill="#0d70b6"/>
<circle cx="526.6" cy="568.4" r="2.9" fill="#0d70b6"/>
<circle cx="529" cy="568.4" r="2.9" fill="#0d70b6"/>
<circle cx="530.7" cy="568.4" r="2.9" fill="#0d70b6"/>
<circle cx="545.7" cy="568.4" r="2.9" fill="#0d70b6"/>
<circle cx="613" cy="568.4" r="2.9" fill="#0d70b6"/>
<circle cx="633.2" cy="568.4" r="2.9" fill="#0d70b6"/>
<circle cx="649" cy="568.4" r="2.9" fill="#0d70b6"/>
<circle cx="661.9" cy="568.4" r="2.9" fill="#0d70b6"/>
<circle cx="406.1" cy="411.95" r="2.9" fill="#f07d2e"/>
<circle cx="656.6" cy="411.95" r="2.9" fill="#f07d2e"/>
<circle cx="384.9" cy="516.25" r="2.9" fill="#f07d2e"/>
<circle cx="392.5" cy="516.25" r="2.9" fill="#f07d2e"/>
<line x1="383.5" y1="568.4" x2="409" y2="568.4" stroke="#f07d2e" stroke-width="5.8" stroke-linecap="round"/>
<circle cx="423.6" cy="568.4" r="2.9" fill="#f07d2e"/>
<circle cx="429.9" cy="568.4" r="2.9" fill="#f07d2e"/>
<circle cx="447.4" cy="568.4" r="2.9" fill="#f07d2e"/>
<circle cx="472.6" cy="568.4" r="2.9" fill="#f07d2e"/>
<circle cx="477.8" cy="568.4" r="2.9" fill="#f07d2e"/>
<circle cx="487.1" cy="568.4" r="2.9" fill="#f07d2e"/>
<circle cx="537.1" cy="568.4" r="2.9" fill="#f07d2e"/>
<line x1="652.1" y1="568.4" x2="654.8" y2="568.4" stroke="#f07d2e" stroke-width="5.8" stroke-linecap="round"/>
<rect x="368.6" y="349.5" width="308" height="229.5" fill="none" stroke="#262626" stroke-width="1.1"/>
<line x1="375" y1="579" x2="375" y2="582.2" stroke="#262626" stroke-width="1"/>
<text class="tk" x="375" y="591.8" text-anchor="middle">0</text>
<line x1="412.44" y1="579" x2="412.44" y2="582.2" stroke="#262626" stroke-width="1"/>
<text class="tk" x="412.44" y="591.8" text-anchor="middle">200</text>
<line x1="449.88" y1="579" x2="449.88" y2="582.2" stroke="#262626" stroke-width="1"/>
<text class="tk" x="449.88" y="591.8" text-anchor="middle">400</text>
<line x1="487.32" y1="579" x2="487.32" y2="582.2" stroke="#262626" stroke-width="1"/>
<text class="tk" x="487.32" y="591.8" text-anchor="middle">600</text>
<line x1="524.76" y1="579" x2="524.76" y2="582.2" stroke="#262626" stroke-width="1"/>
<text class="tk" x="524.76" y="591.8" text-anchor="middle">800</text>
<line x1="562.2" y1="579" x2="562.2" y2="582.2" stroke="#262626" stroke-width="1"/>
<text class="tk" x="562.2" y="591.8" text-anchor="middle">1000</text>
<line x1="599.64" y1="579" x2="599.64" y2="582.2" stroke="#262626" stroke-width="1"/>
<text class="tk" x="599.64" y="591.8" text-anchor="middle">1200</text>
<line x1="637.08" y1="579" x2="637.08" y2="582.2" stroke="#262626" stroke-width="1"/>
<text class="tk" x="637.08" y="591.8" text-anchor="middle">1400</text>
<line x1="674.52" y1="579" x2="674.52" y2="582.2" stroke="#262626" stroke-width="1"/>
<text class="tk" x="674.52" y="591.8" text-anchor="middle">1600</text>
<line x1="365.4" y1="568.4" x2="368.6" y2="568.4" stroke="#262626" stroke-width="1"/>
<text class="tk" x="362" y="571.7" text-anchor="end">2.0</text>
<line x1="365.4" y1="542.32" x2="368.6" y2="542.32" stroke="#262626" stroke-width="1"/>
<text class="tk" x="362" y="545.62" text-anchor="end">2.5</text>
<line x1="365.4" y1="516.25" x2="368.6" y2="516.25" stroke="#262626" stroke-width="1"/>
<text class="tk" x="362" y="519.55" text-anchor="end">3.0</text>
<line x1="365.4" y1="490.17" x2="368.6" y2="490.17" stroke="#262626" stroke-width="1"/>
<text class="tk" x="362" y="493.47" text-anchor="end">3.5</text>
<line x1="365.4" y1="464.1" x2="368.6" y2="464.1" stroke="#262626" stroke-width="1"/>
<text class="tk" x="362" y="467.4" text-anchor="end">4.0</text>
<line x1="365.4" y1="438.02" x2="368.6" y2="438.02" stroke="#262626" stroke-width="1"/>
<text class="tk" x="362" y="441.32" text-anchor="end">4.5</text>
<line x1="365.4" y1="411.95" x2="368.6" y2="411.95" stroke="#262626" stroke-width="1"/>
<text class="tk" x="362" y="415.25" text-anchor="end">5.0</text>
<line x1="365.4" y1="385.88" x2="368.6" y2="385.88" stroke="#262626" stroke-width="1"/>
<text class="tk" x="362" y="389.18" text-anchor="end">5.5</text>
<line x1="365.4" y1="359.8" x2="368.6" y2="359.8" stroke="#262626" stroke-width="1"/>
<text class="tk" x="362" y="363.1" text-anchor="end">6.0</text>
<rect x="635.6" y="353.6" width="35.7" height="28.9" rx="1.8" fill="#fff" fill-opacity="0.8" stroke="#cfcfcf" stroke-width="0.9"/>
<circle cx="647.1" cy="362" r="2.9" fill="#0d70b6"/>
<circle cx="647.1" cy="374.4" r="2.9" fill="#f07d2e"/>
<text class="tk lg" x="666" y="364.3" text-anchor="middle">0</text>
<text class="tk lg" x="666" y="376.7" text-anchor="middle">1</text>
</g>
<text class="cap" y="290.5"><tspan x="214.5" textLength="34.3" lengthAdjust="spacingAndGlyphs">(a)</tspan> <tspan x="260.3" textLength="101.8" lengthAdjust="spacingAndGlyphs">Original</tspan> <tspan x="375.6" textLength="95.6" lengthAdjust="spacingAndGlyphs">Dataset</tspan></text>
<text class="cap" y="636.7"><tspan x="114.3" textLength="36.4" lengthAdjust="spacingAndGlyphs">(b)</tspan> <tspan x="161.9" textLength="58.3" lengthAdjust="spacingAndGlyphs">RUS</tspan></text>
<text class="cap" y="636.7"><tspan x="462.5" textLength="33.7" lengthAdjust="spacingAndGlyphs">(c)</tspan> <tspan x="507.5" textLength="63.9" lengthAdjust="spacingAndGlyphs">CNN</tspan></text>
<text class="cap" y="977.6"><tspan x="114.9" textLength="35.8" lengthAdjust="spacingAndGlyphs">(d)</tspan> <tspan x="161.9" textLength="59.3" lengthAdjust="spacingAndGlyphs">ROS</tspan></text>
<text class="cap" y="977.6"><tspan x="442.4" textLength="33.1" lengthAdjust="spacingAndGlyphs">(e)</tspan> <tspan x="486.7" textLength="105.6" lengthAdjust="spacingAndGlyphs">SMOTE</tspan></text>
</svg>
</body>
</html>
